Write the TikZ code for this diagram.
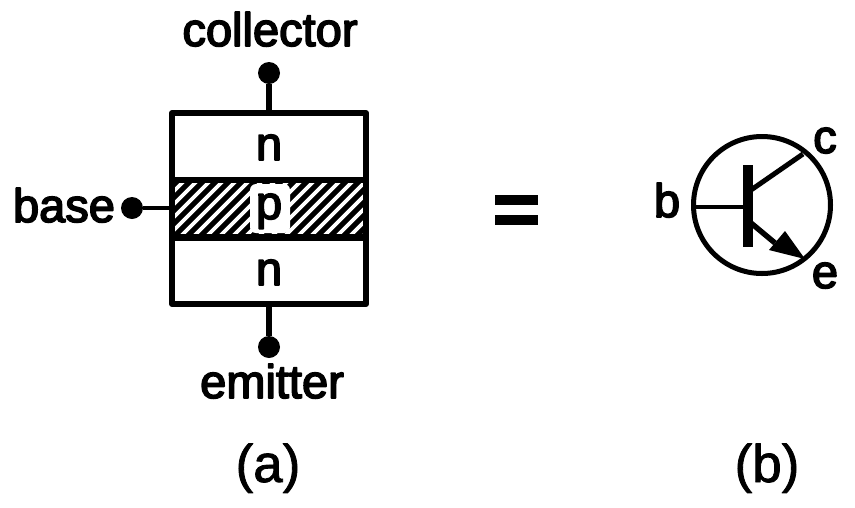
\documentclass[tikz,border=0pt]{standalone}
\usepackage{fontspec}
\setmainfont{Liberation Sans}
\newcommand{\heavy}[2]{\special{pdf:code #1 w 2 Tr}#2\special{pdf:code 0 Tr 1 w}}
\begin{document}
\begin{tikzpicture}[x=1pt,y=-1pt,line join=round,
  lab/.style={inner sep=0pt,font=\fontsize{47}{50}\selectfont,text=black,anchor=base},
  captext/.style={inner sep=0pt,font=\fontsize{53}{56}\selectfont,text=black,anchor=base},
  term/.style={circle,fill=black,inner sep=0pt,minimum size=22pt},
  wire/.style={draw=black,line width=6pt},
  thin wire/.style={draw=black,line width=4pt}]
\useasboundingbox (0,0) rectangle (855,507);
\fill[white] (0,0) rectangle (855,507);
% hatching
\begin{scope}
\clip (172,178) rectangle (366,238);
\fill (172,178) rectangle (366,238);
\foreach \i in {-60,-47,...,260}{\draw[white,line width=3.6pt] (\i+172+70,170) -- (\i+172,240);}
\end{scope}
\fill[white,rounded corners=6pt] (250,184) rectangle (290,233);
% box
\draw[line width=6pt] (172,113) rectangle (366,304);
\draw[line width=5.5pt] (172,180) -- (366,180);
\draw[line width=7pt] (172,237) -- (366,237);
\coordinate (boxtop) at (269,113);
\coordinate (boxbot) at (269,304);
\coordinate (boxleft) at (172,208);
% texts
\node[lab] (nt) at (269,160) {\heavy{1.6}{n}};
\node[lab] (pm) at (269,219) {\heavy{1.6}{p}};
\node[lab] (nb) at (269,285) {\heavy{1.6}{n}};
\node[lab] (coll) at (270,46) {\heavy{1.6}{collector}};
\node[lab] (bas) at (64,222) {\heavy{1.6}{base}};
\node[lab] (emit) at (272,398) {\heavy{1.6}{emitter}};
\node[captext] (a) at (268,482) {\heavy{0.8}{(a)}};
\node[captext] (b) at (767,482) {\heavy{0.8}{(b)}};
% terminals
\node[term] (tc) at (269,73) {};
\node[term] (tb) at (132,208) {};
\node[term] (te) at (269,347) {};
\draw[wire] (tc) -- (boxtop);
\draw[wire] (te) -- (boxbot);
\draw[thin wire] (tb) -- (boxleft);
% equals
\fill (495,195) rectangle (538,205);
\fill (495,215) rectangle (538,225);
% transistor
\node[draw=black,line width=5pt,circle,minimum size=137pt,inner sep=0pt] (q) at (762,205) {};
\draw[line width=10pt] (748,165) coordinate (bt) -- (748,247) coordinate (bb);
\coordinate (bj) at (748,207);
\coordinate (cj) at (751,190);
\coordinate (ej) at (751,223);
\coordinate (ce) at (803,154);
\coordinate (ea) at (775,243);
\draw[thin wire] (693.5,207) -- (bj);
\draw[line width=5pt] (cj) -- (ce);
\draw[line width=5.5pt] (ej) -- (ea);
\fill (805,259) -- (769,250) -- (785,231) -- cycle;
\node[lab] (lb) at (667,217) {\heavy{1.6}{b}};
\node[lab] (lc) at (825,153) {\heavy{1.6}{c}};
\node[lab] (le) at (825,288) {\heavy{1.6}{e}};
\end{tikzpicture}
\end{document}
